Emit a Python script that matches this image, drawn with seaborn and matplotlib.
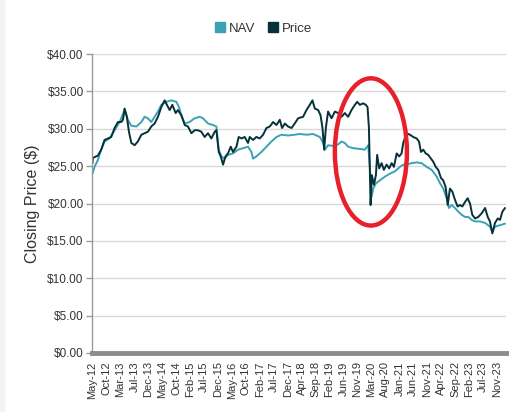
import pandas as pd
import matplotlib.pyplot as plt
import seaborn as sns
from matplotlib.lines import Line2D
from matplotlib.patches import Ellipse, Rectangle

# trading-day index (0 = May-12) and closing values
price_day = [0, 2, 38, 62, 86, 110, 134, 158, 182, 206, 218, 230, 246, 261, 278, 302, 325, 350,
             373, 397, 421, 445, 469, 493, 517, 533, 553, 572, 596, 612, 637, 661, 684, 709,
             732, 756, 780, 804, 828, 852, 876, 888, 905, 919, 936, 953, 971, 991, 1007, 1032,
             1048, 1068, 1091, 1115, 1127, 1151, 1175, 1199, 1223, 1247, 1271, 1295, 1319, 1343,
             1359, 1379, 1402, 1427, 1450, 1474, 1510, 1534, 1558, 1577, 1594, 1618, 1635, 1649,
             1661, 1673, 1689, 1714, 1738, 1761, 1786, 1809, 1833, 1857, 1881, 1898, 1917, 1941,
             1960, 1972, 1982, 1989, 1994, 2003, 2018, 2032, 2041, 2056, 2073, 2089, 2109, 2127,
             2145, 2161, 2181, 2199, 2216, 2228, 2252, 2276, 2300, 2324, 2341, 2355, 2372, 2389,
             2407, 2427, 2443, 2461, 2479, 2499, 2515, 2532, 2547, 2563, 2580, 2599, 2618, 2635,
             2652, 2671, 2690, 2707, 2723, 2743, 2766, 2791, 2815, 2834, 2850, 2867, 2886, 2906,
             2922, 2939, 2958]
price_val = [25.4, 26.1, 26.4, 27.2, 28.5, 28.7, 28.9, 30.1, 30.9, 30.9, 31.2, 32.7, 31.6, 29.6,
             28.1, 27.8, 28.3, 29.2, 29.4, 29.6, 30.3, 30.7, 31.6, 32.9, 33.8, 33.2, 32.5, 33.2,
             32.1, 32.5, 31.8, 30.5, 30.3, 29.4, 29.8, 29.8, 29.6, 28.9, 29.4, 28.7, 29.6, 29.8,
             26.9, 26.3, 25.2, 26.3, 26.7, 27.6, 26.9, 27.6, 28.9, 28.7, 28.9, 28.1, 28.9, 28.5,
             28.9, 28.7, 29.2, 30.1, 30.3, 30.9, 30.5, 31.2, 30.1, 30.7, 30.3, 30.1, 30.7, 31.4,
             31.6, 32.5, 33.2, 33.8, 32.7, 32.5, 31.8, 30.1, 27.2, 30.1, 32.3, 31.4, 32.3, 32.1,
             31.6, 32.1, 31.6, 32.5, 33.2, 33.6, 33.2, 33.4, 33.2, 32.9, 30.1, 24.3, 19.8, 23.8,
             22.5, 23.8, 26.5, 24.7, 25.4, 24.5, 25.2, 24.7, 25.4, 24.9, 26.7, 26.3, 26.7, 28.1,
             29.4, 29.2, 28.9, 28.7, 28.3, 26.9, 27.2, 26.7, 26.5, 26.0, 25.6, 24.9, 24.5, 23.4,
             23.1, 22.2, 19.8, 22.0, 21.6, 20.5, 19.6, 19.8, 19.6, 20.2, 20.7, 20.0, 18.5, 18.0,
             18.2, 18.7, 19.4, 18.2, 17.6, 16.0, 17.4, 18.0, 17.8, 18.9, 19.4]

nav_day = [0, 14, 38, 62, 86, 122, 158, 194, 230, 253, 278, 314, 350, 373, 397, 421, 445, 469,
           493, 529, 565, 601, 620, 637, 661, 696, 732, 768, 792, 828, 864, 888, 905, 924, 948,
           971, 1007, 1043, 1079, 1115, 1139, 1151, 1175, 1211, 1247, 1283, 1319, 1355, 1402,
           1450, 1486, 1534, 1582, 1630, 1654, 1666, 1689, 1725, 1761, 1786, 1809, 1833, 1869,
           1917, 1953, 1977, 1989, 2001, 2013, 2032, 2061, 2097, 2133, 2168, 2204, 2228, 2252,
           2288, 2324, 2360, 2396, 2432, 2468, 2492, 2515, 2540, 2556, 2575, 2599, 2623, 2647,
           2671, 2695, 2719, 2743, 2779, 2815, 2850, 2867, 2886, 2922, 2958]
nav_val = [24.0, 24.9, 25.8, 27.2, 28.3, 28.7, 29.8, 30.9, 32.5, 31.2, 30.4, 30.3, 30.9, 31.6,
           31.4, 30.9, 31.6, 32.3, 33.2, 33.6, 33.8, 33.6, 32.9, 31.8, 30.7, 30.9, 31.4, 31.6,
           31.4, 30.7, 30.5, 30.3, 27.2, 26.3, 26.0, 26.5, 26.7, 27.2, 27.4, 27.6, 26.9, 26.0,
           26.3, 26.9, 27.6, 28.3, 28.9, 29.2, 29.1, 29.2, 29.3, 29.2, 29.3, 28.9, 28.1, 27.2,
           27.8, 27.7, 27.9, 28.3, 28.1, 27.6, 27.4, 27.3, 27.2, 27.8, 24.7, 20.9, 22.0, 22.7,
           23.1, 23.6, 24.0, 24.3, 24.9, 25.2, 25.2, 25.4, 25.5, 25.4, 24.9, 24.5, 23.6, 22.7,
           22.0, 20.7, 19.4, 19.8, 19.4, 18.9, 18.5, 18.2, 18.2, 17.8, 17.6, 17.6, 17.4, 16.9,
           16.2, 16.9, 17.1, 17.3]

tick_labels = ["May-12", "Oct-12", "Mar-13", "Jul-13", "Dec-13", "May-14", "Oct-14", "Feb-15",
               "Jul-15", "Dec-15", "May-16", "Oct-16", "Feb-17", "Jul-17", "Dec-17", "Apr-18",
               "Sep-18", "Feb-19", "Jun-19", "Nov-19", "Mar-20", "Aug-20", "Jan-21", "Jun-21",
               "Nov-21", "Apr-22", "Sep-22", "Feb-23", "Jul-23", "Nov-23"]

NAV_COLOR = "#3aa2b4"
PRICE_COLOR = "#06313b"

sns.set_theme(style="white")
plt.rcParams['font.family'] = ['Liberation Sans', 'DejaVu Sans']

fig = plt.figure(figsize=(5.2, 4.12), dpi=100)
fig.patches.append(Rectangle((0, 0), 4 / 520, 1, transform=fig.transFigure,
                             color="#f3f3f3", zorder=0))
ax = fig.add_axes([92 / 520, 59 / 412, 414 / 520, 299 / 412])

nav_df = pd.DataFrame({"day": nav_day, "value": nav_val})
price_df = pd.DataFrame({"day": price_day, "value": price_val})
sns.lineplot(data=nav_df, x="day", y="value", color=NAV_COLOR, lw=1.4, ax=ax)
sns.lineplot(data=price_df, x="day", y="value", color=PRICE_COLOR, lw=1.4, ax=ax)

ax.set_xlim(-4, 2965)
ax.set_ylim(0, 40)
ax.set_yticks(range(0, 41, 5))
ax.set_yticklabels([f"${v:.2f}" for v in range(0, 41, 5)], fontsize=8.5, color="#333333")
ax.set_xticks(range(0, 100 * len(tick_labels), 100))
ax.set_xticklabels(tick_labels, rotation=90, fontsize=8, color="#333333")
ax.tick_params(axis='y', length=4, width=1, color="#999999", pad=2, left=True)
ax.tick_params(axis='x', length=0, pad=6)
ax.set_xlabel("")
ax.set_ylabel("Closing Price ($)", fontsize=11.5, color="#333333", labelpad=5)

ax.grid(axis='y', color="#d9d9d9", lw=1)
ax.set_axisbelow(True)
for s in ["top", "right"]:
    ax.spines[s].set_visible(False)
ax.spines["left"].set_color("#999999")
ax.spines["left"].set_linewidth(1)
ax.spines["bottom"].set_color("#8c8c8c")
ax.spines["bottom"].set_linewidth(3.5)

# red highlight around the March 2020 drop
ax.add_patch(Ellipse((1996, 26.9), 517, 19.7, fill=False, ec="#e8202a", lw=3.2,
                     clip_on=False, zorder=5))

handles = [Line2D([], [], ls="", marker="s", ms=7, color=NAV_COLOR),
           Line2D([], [], ls="", marker="s", ms=7, color=PRICE_COLOR)]
fig.legend(handles, ["NAV", "Price"], loc="center", bbox_to_anchor=(0.505, 0.93), ncol=2,
           frameon=False, fontsize=9.5, handletextpad=0.2, columnspacing=0.8,
           handlelength=1.0, labelcolor="#333333")

fig.savefig("out.png", dpi=100)
